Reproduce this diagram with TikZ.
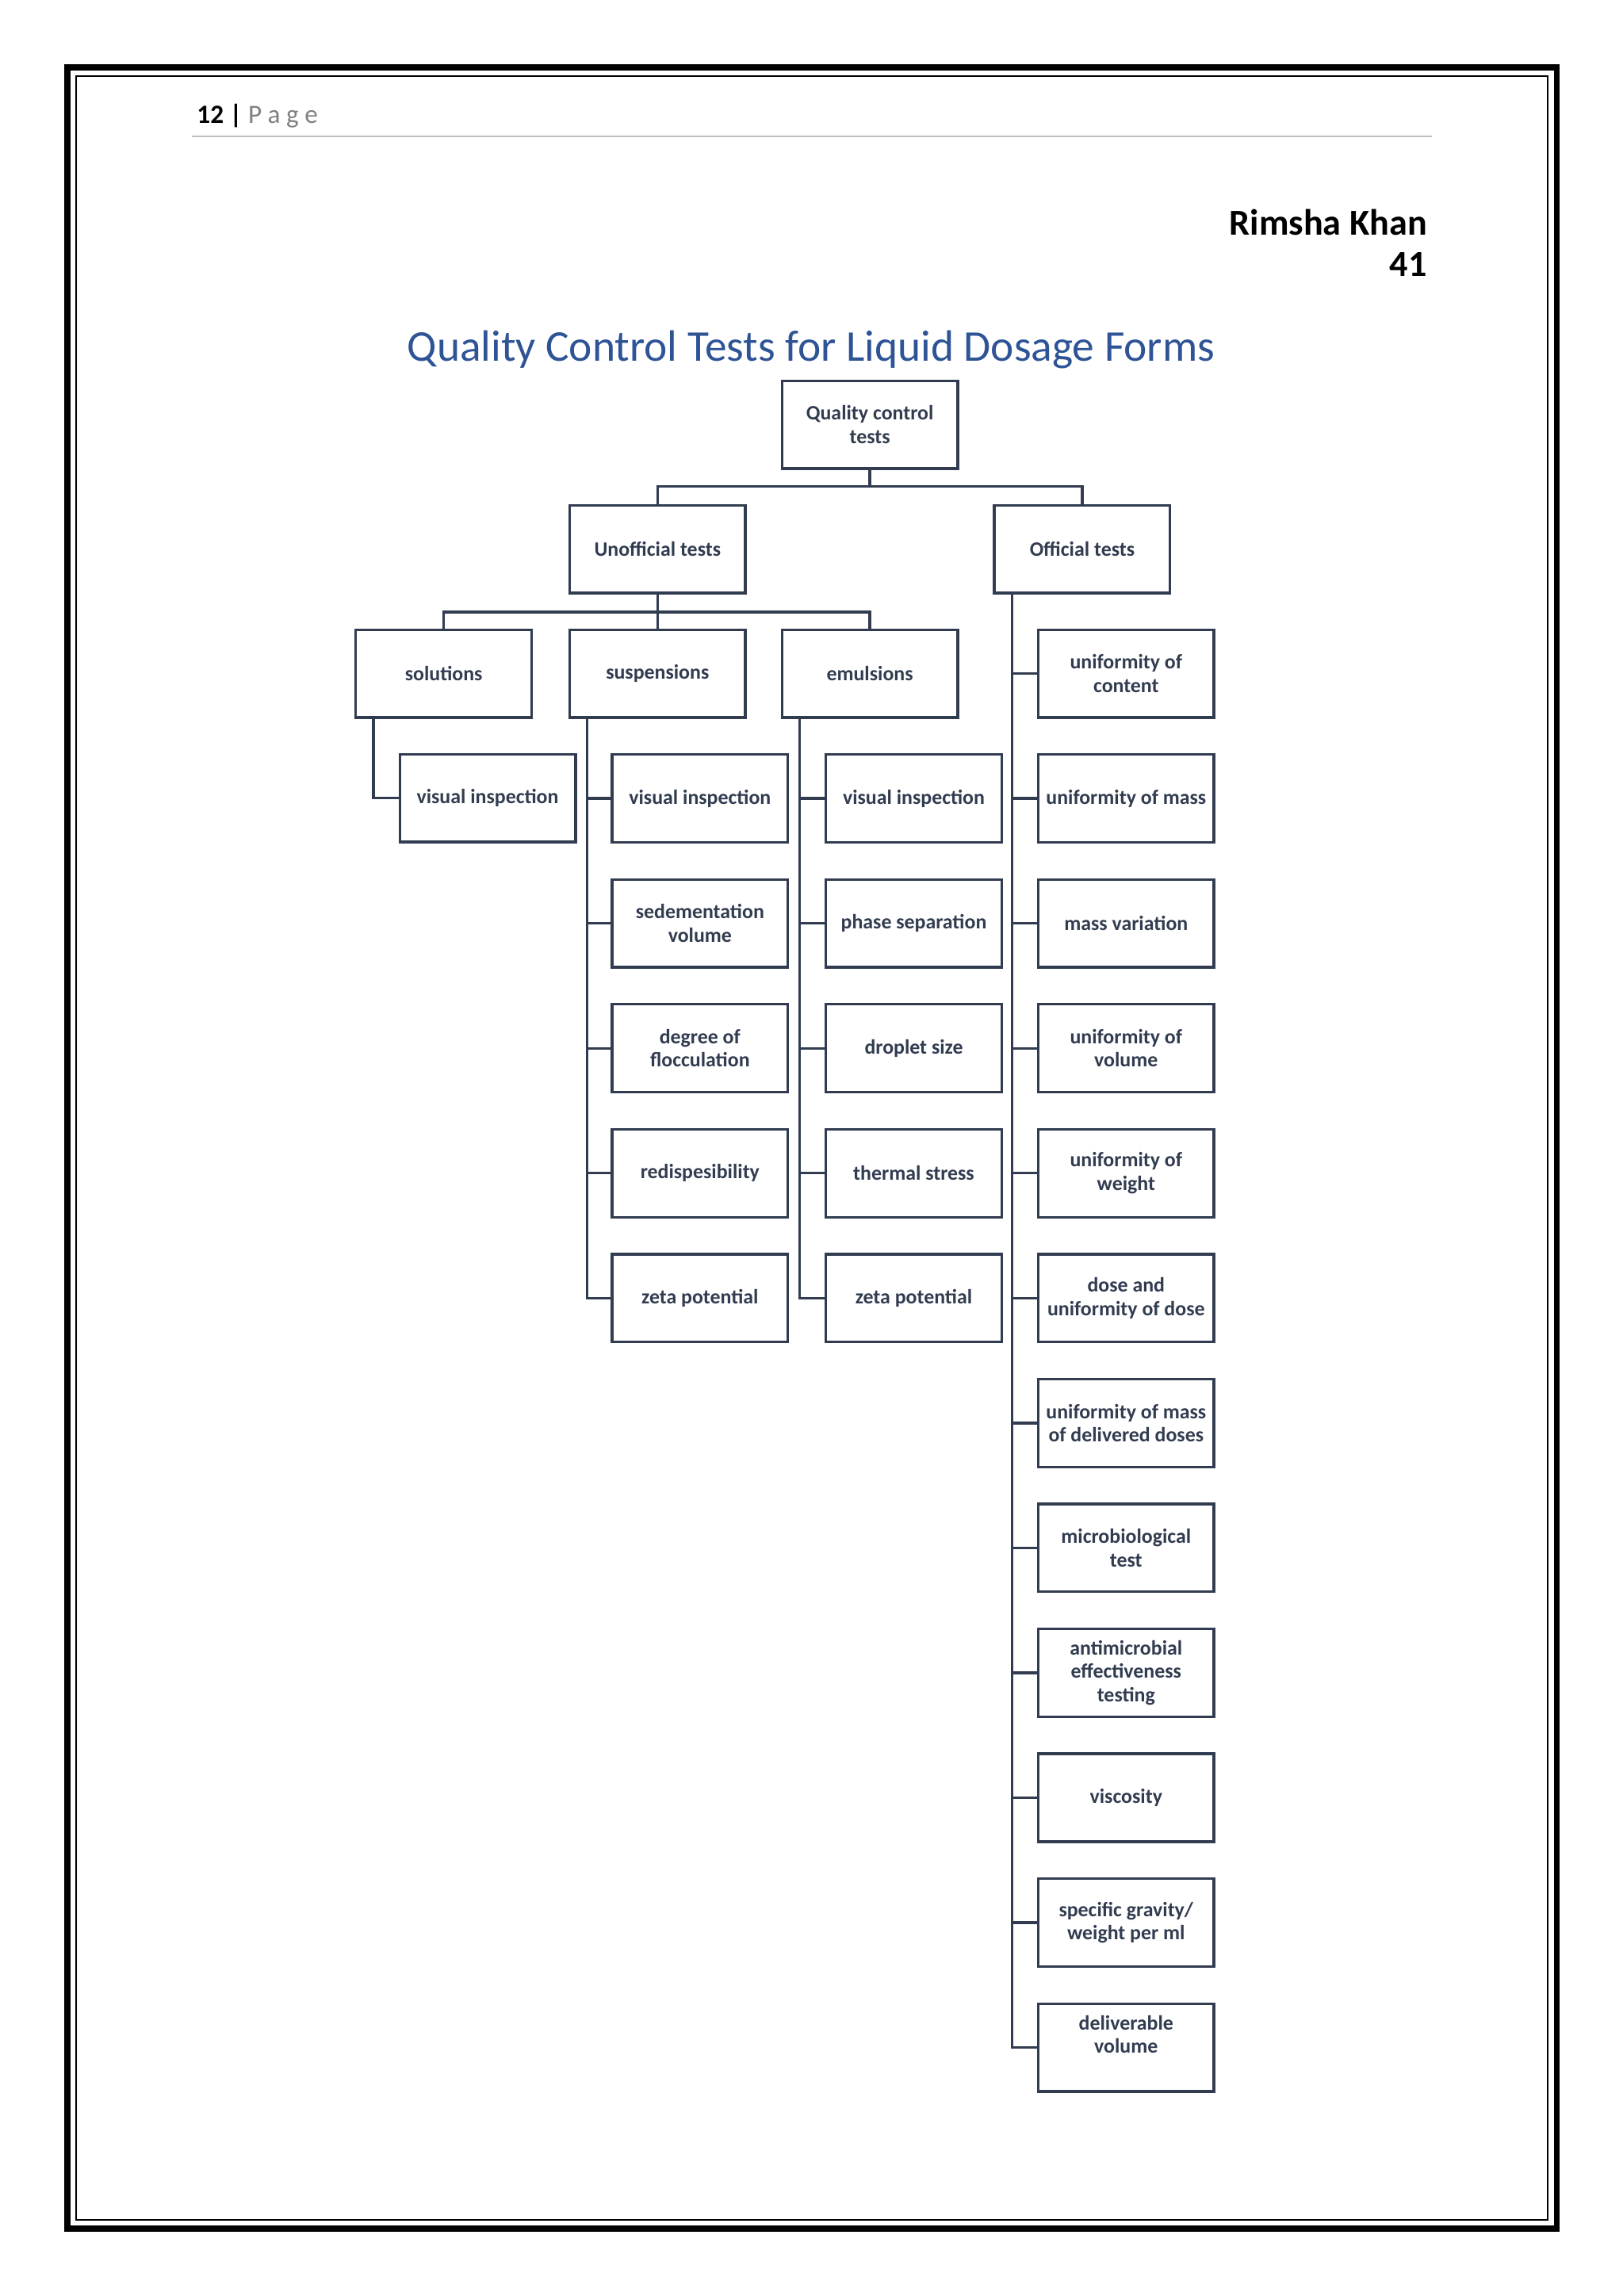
\documentclass[tikz,border=0pt]{standalone}
\usepackage{fontspec}
\setmainfont{Carlito}
\definecolor{boxc}{RGB}{50,60,80}
\definecolor{titlec}{RGB}{47,84,150}
\begin{document}
\begin{tikzpicture}[x=1pt,y=-1pt,
  bx/.style={draw=boxc,line width=1.8pt,minimum width=120pt,minimum height=60pt,align=center,font=\fontsize{14}{16}\selectfont\bfseries,text=boxc,inner sep=1pt},
  ln/.style={draw=boxc,line width=1.8pt}]
\useasboundingbox (0,0) rectangle (1108,1568);
\fill[white] (0,0) rectangle (1108,1568);
\draw[line width=4pt] (46,46) rectangle (1063,1522);
\draw[line width=1.2pt] (52,52) rectangle (1057,1516);
\node[anchor=west,font=\fontsize{18}{20}\selectfont] (pg) at (131,79) {\textbf{12 |} \textcolor{gray}{P a g e}};
\draw[gray!50,line width=0.8pt] (131,93) -- (978,93);
\node[anchor=east,font=\fontsize{25}{28}\selectfont\bfseries,align=right] (au) at (978,166) {Rimsha Khan\\41};
\node[font=\fontsize{30}{34}\selectfont,text=titlec] (ttl) at (554,239) {Quality Control Tests for Liquid Dosage Forms};
\node[bx] (root) at (594,290) {Quality control\\tests};
\node[bx] (un) at (449,375) {Unofficial tests};
\node[bx] (of) at (739,375) {Official tests};
\draw[ln] (root.south) -- (594,332) -| (un.north);
\draw[ln] (594,332) -| (of.north);
\node[bx] (so) at (303,460) {solutions};
\node[bx] (su) at (449,460) {suspensions};
\node[bx] (em) at (594,460) {emulsions};
\draw[ln] (un.south) -- (449,418) -| (so.north);
\draw[ln] (449,418) -| (em.north);
\draw[ln] (449,418) -- (su.north);
\node[bx] (so1) at (333,545) {visual inspection};
\draw[ln] (255,490) |- (so1.west);
\foreach \n/\t [count=\i] in {su1/visual inspection,su2/{sedementation\\volume},su3/{degree of\\flocculation},su4/redispesibility,su5/zeta potential}{
  \node[bx] (\n) at (478,{460+85.3*\i}) {\t};
  \draw[ln] (401,490) |- (\n.west);}
\foreach \n/\t [count=\i] in {em1/visual inspection,em2/phase separation,em3/droplet size,em4/thermal stress,em5/zeta potential}{
  \node[bx] (\n) at (624,{460+85.3*\i}) {\t};
  \draw[ln] (546,490) |- (\n.west);}
\foreach \n/\t [count=\i from 0] in {o1/{uniformity of\\content},o2/uniformity of mass,o3/mass variation,o4/{uniformity of\\volume},o5/{uniformity of\\weight},o6/{dose and\\uniformity of dose},o7/{uniformity of mass\\of delivered doses},o8/{microbiological\\test},o9/{antimicrobial\\effectiveness\\testing},o10/viscosity,o11/{specific gravity/\\weight per ml},o12/{deliverable\\volume\\[2pt]}}{
  \node[bx] (\n) at (769,{460+85.3*\i}) {\t};
  \draw[ln] (691,405) |- (\n.west);}
\end{tikzpicture}
\end{document}
